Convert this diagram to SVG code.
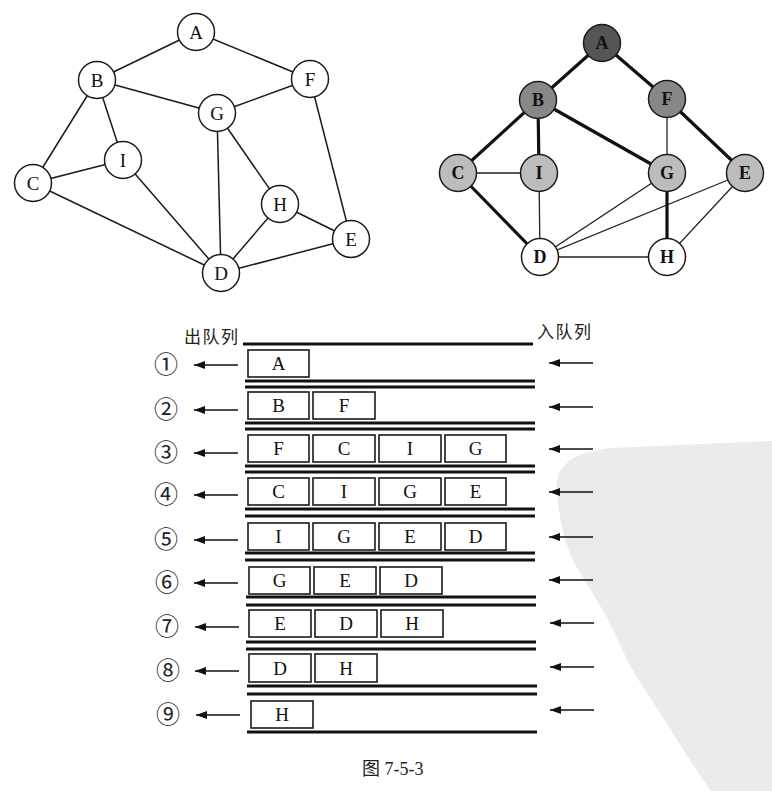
<svg xmlns="http://www.w3.org/2000/svg" width="772" height="791" viewBox="0 0 772 791">
<defs>
<style>
.e1{stroke:#1a1a1a;stroke-width:1.5;fill:none}
.tk{stroke:#111;stroke-width:3.2;fill:none}
.tn{stroke:#222;stroke-width:1.3;fill:none}
.n1{fill:#fff;stroke:#1a1a1a;stroke-width:1.5}
.n2{stroke:#1a1a1a;stroke-width:1.5}
.lb{font-family:"Liberation Serif","Times New Roman",serif;font-size:19px;fill:#111;text-anchor:middle}
.lbb{font-family:"Liberation Serif","Times New Roman",serif;font-size:18px;font-weight:bold;fill:#111;text-anchor:middle}
.bx{fill:#fff;stroke:#1a1a1a;stroke-width:1.6}
.bt{font-family:"Liberation Serif","Times New Roman",serif;font-size:19px;fill:#111;text-anchor:middle}
.ql{stroke:#111;stroke-width:3}
.ar{stroke:#111;stroke-width:1.6;marker-end:url(#ah)}
.cn{font-family:"Noto Sans CJK SC","DejaVu Sans",sans-serif;font-size:24px;fill:#222;text-anchor:middle}
.hd{font-family:"Noto Sans CJK SC",sans-serif;font-size:17px;fill:#222;letter-spacing:1.5px}
.cap{font-family:"Liberation Serif","Noto Sans CJK SC",serif;font-size:18px;fill:#222}
</style>
<marker id="ah" markerUnits="userSpaceOnUse" markerWidth="13" markerHeight="10" refX="11" refY="4" orient="auto">
<path d="M0,0 L11,4 L0,8 Z" fill="#111"/>
</marker>
</defs>
<rect width="772" height="791" fill="#fff"/>
<path id="watermark" d="M557 492 C554 466 572 452 612 448 L772 441 L772 791 L711 791 C695 770 665 720 643 687 C628 664 618 640 608 620 C595 595 582 578 573 560 C563 540 559 515 557 492 Z" fill="#ebebeb"/>

<g id="graph1-connectors">
<line class="e1" x1="196" y1="32" x2="97" y2="80"/>
<line class="e1" x1="196" y1="32" x2="310" y2="79"/>
<line class="e1" x1="97" y1="80" x2="217" y2="113"/>
<line class="e1" x1="310" y1="79" x2="217" y2="113"/>
<line class="e1" x1="97" y1="80" x2="33" y2="183"/>
<line class="e1" x1="97" y1="80" x2="123" y2="160"/>
<line class="e1" x1="33" y1="183" x2="123" y2="160"/>
<line class="e1" x1="33" y1="183" x2="221" y2="273"/>
<line class="e1" x1="123" y1="160" x2="221" y2="273"/>
<line class="e1" x1="217" y1="113" x2="221" y2="273"/>
<line class="e1" x1="217" y1="113" x2="280" y2="204"/>
<line class="e1" x1="310" y1="79" x2="351" y2="239"/>
<line class="e1" x1="280" y1="204" x2="351" y2="239"/>
<line class="e1" x1="280" y1="204" x2="221" y2="273"/>
<line class="e1" x1="351" y1="239" x2="221" y2="273"/>
</g>
<g id="g1-A"><circle class="n1" cx="196" cy="32" r="18.5"/><text class="lb" x="196" y="38.5">A</text></g>
<g id="g1-B"><circle class="n1" cx="97" cy="80" r="18.5"/><text class="lb" x="97" y="86.5">B</text></g>
<g id="g1-F"><circle class="n1" cx="310" cy="79" r="18.5"/><text class="lb" x="310" y="85.5">F</text></g>
<g id="g1-G"><circle class="n1" cx="217" cy="113" r="18.5"/><text class="lb" x="217" y="119.5">G</text></g>
<g id="g1-I"><circle class="n1" cx="123" cy="160" r="18.5"/><text class="lb" x="123" y="166.5">I</text></g>
<g id="g1-C"><circle class="n1" cx="33" cy="183" r="18.5"/><text class="lb" x="33" y="189.5">C</text></g>
<g id="g1-H"><circle class="n1" cx="280" cy="204" r="18.5"/><text class="lb" x="280" y="210.5">H</text></g>
<g id="g1-E"><circle class="n1" cx="351" cy="239" r="18.5"/><text class="lb" x="351" y="245.5">E</text></g>
<g id="g1-D"><circle class="n1" cx="221" cy="273" r="18.5"/><text class="lb" x="221" y="279.5">D</text></g>

<g id="graph2-connectors">
<line class="tk" x1="602" y1="43" x2="538" y2="100"/>
<line class="tk" x1="602" y1="43" x2="667" y2="99"/>
<line class="tk" x1="538" y1="100" x2="458" y2="173"/>
<line class="tk" x1="538" y1="100" x2="539" y2="173"/>
<line class="tk" x1="538" y1="100" x2="667" y2="173"/>
<line class="tn" x1="667" y1="99" x2="667" y2="173"/>
<line class="tk" x1="667" y1="99" x2="745" y2="173"/>
<line class="tn" x1="458" y1="173" x2="539" y2="173"/>
<line class="tk" x1="458" y1="173" x2="540" y2="257"/>
<line class="tn" x1="539" y1="173" x2="540" y2="257"/>
<line class="tn" x1="667" y1="173" x2="540" y2="257"/>
<line class="tn" x1="745" y1="173" x2="540" y2="257"/>
<line class="tk" x1="667" y1="173" x2="667" y2="257"/>
<line class="tn" x1="745" y1="173" x2="667" y2="257"/>
<line class="tn" x1="540" y1="257" x2="667" y2="257"/>
</g>
<g id="g2-A"><circle class="n2" fill="#555" cx="602" cy="43" r="18.5"/><text class="lbb" x="602" y="49">A</text></g>
<g id="g2-B"><circle class="n2" fill="#878787" cx="538" cy="100" r="18.5"/><text class="lbb" x="538" y="106">B</text></g>
<g id="g2-F"><circle class="n2" fill="#878787" cx="667" cy="99" r="18.5"/><text class="lbb" x="667" y="105">F</text></g>
<g id="g2-C"><circle class="n2" fill="#bcbcbc" cx="458" cy="173" r="18.5"/><text class="lbb" x="458" y="179">C</text></g>
<g id="g2-I"><circle class="n2" fill="#bcbcbc" cx="539" cy="173" r="18.5"/><text class="lbb" x="539" y="179">I</text></g>
<g id="g2-G"><circle class="n2" fill="#bcbcbc" cx="667" cy="173" r="18.5"/><text class="lbb" x="667" y="179">G</text></g>
<g id="g2-E"><circle class="n2" fill="#bcbcbc" cx="745" cy="173" r="18.5"/><text class="lbb" x="745" y="179">E</text></g>
<g id="g2-D"><circle class="n2" fill="#fff" cx="540" cy="257" r="18.5"/><text class="lbb" x="540" y="263">D</text></g>
<g id="g2-H"><circle class="n2" fill="#fff" cx="667" cy="257" r="18.5"/><text class="lbb" x="667" y="263">H</text></g>

<g id="queue-headers">
<text class="hd" x="184" y="343">出队列</text>
<text class="hd" x="537" y="338">入队列</text>
</g>

<g id="queue-lines">
<line class="ql" x1="243" y1="344" x2="533" y2="344"/>
<line class="ql" x1="245" y1="381" x2="535" y2="381"/>
<line class="ql" x1="245" y1="387" x2="535" y2="387"/>
<line class="ql" x1="245" y1="423" x2="535" y2="423"/>
<line class="ql" x1="245" y1="429" x2="535" y2="429"/>
<line class="ql" x1="245" y1="466" x2="535" y2="466"/>
<line class="ql" x1="245" y1="472" x2="535" y2="472"/>
<line class="ql" x1="245" y1="509" x2="535" y2="509"/>
<line class="ql" x1="245" y1="516" x2="535" y2="516"/>
<line class="ql" x1="245" y1="553" x2="535" y2="553"/>
<line class="ql" x1="245" y1="560" x2="535" y2="560"/>
<line class="ql" x1="246" y1="597" x2="536" y2="597"/>
<line class="ql" x1="246" y1="605" x2="536" y2="605"/>
<line class="ql" x1="246" y1="642" x2="536" y2="642"/>
<line class="ql" x1="246" y1="649" x2="536" y2="649"/>
<line class="ql" x1="247" y1="686" x2="537" y2="686"/>
<line class="ql" x1="247" y1="694" x2="537" y2="694"/>
<line class="ql" x1="247" y1="732" x2="537" y2="732"/>
</g>

<g id="queue-arrows">
<line class="ar" x1="238" y1="365" x2="194" y2="365"/>
<line class="ar" x1="238" y1="410" x2="194" y2="410"/>
<line class="ar" x1="238" y1="453" x2="194" y2="453"/>
<line class="ar" x1="238" y1="495" x2="194" y2="495"/>
<line class="ar" x1="238" y1="540" x2="194" y2="540"/>
<line class="ar" x1="238" y1="583" x2="194" y2="583"/>
<line class="ar" x1="239" y1="627" x2="195" y2="627"/>
<line class="ar" x1="239" y1="671" x2="195" y2="671"/>
<line class="ar" x1="240" y1="715" x2="196" y2="715"/>
<line class="ar" x1="593" y1="363" x2="549" y2="363"/>
<line class="ar" x1="593" y1="407" x2="549" y2="407"/>
<line class="ar" x1="593" y1="449" x2="549" y2="449"/>
<line class="ar" x1="593" y1="492" x2="549" y2="492"/>
<line class="ar" x1="593" y1="537" x2="549" y2="537"/>
<line class="ar" x1="593" y1="580" x2="549" y2="580"/>
<line class="ar" x1="594" y1="623" x2="550" y2="623"/>
<line class="ar" x1="594" y1="667" x2="550" y2="667"/>
<line class="ar" x1="594" y1="710" x2="550" y2="710"/>
</g>

<g id="queue-steps">
<text class="cn" x="166" y="373">①</text>
<text class="cn" x="166" y="418">②</text>
<text class="cn" x="166" y="461">③</text>
<text class="cn" x="166" y="503">④</text>
<text class="cn" x="166" y="548">⑤</text>
<text class="cn" x="167" y="591">⑥</text>
<text class="cn" x="167" y="635">⑦</text>
<text class="cn" x="168" y="679">⑧</text>
<text class="cn" x="168" y="723">⑨</text>
</g>

<g id="row1">
<rect class="bx" x="248" y="350" width="61" height="27"/><text class="bt" x="278.5" y="370">A</text>
</g>
<g id="row2">
<rect class="bx" x="248" y="392" width="61" height="27"/><text class="bt" x="278.5" y="412">B</text>
<rect class="bx" x="313" y="392" width="62" height="27"/><text class="bt" x="344" y="412">F</text>
</g>
<g id="row3">
<rect class="bx" x="248" y="435" width="61" height="27"/><text class="bt" x="278.5" y="455">F</text>
<rect class="bx" x="313" y="435" width="62" height="27"/><text class="bt" x="344" y="455">C</text>
<rect class="bx" x="379" y="435" width="62" height="27"/><text class="bt" x="410" y="455">I</text>
<rect class="bx" x="445" y="435" width="61" height="27"/><text class="bt" x="475.5" y="455">G</text>
</g>
<g id="row4">
<rect class="bx" x="248" y="478" width="61" height="27"/><text class="bt" x="278.5" y="498">C</text>
<rect class="bx" x="313" y="478" width="62" height="27"/><text class="bt" x="344" y="498">I</text>
<rect class="bx" x="379" y="478" width="62" height="27"/><text class="bt" x="410" y="498">G</text>
<rect class="bx" x="445" y="478" width="61" height="27"/><text class="bt" x="475.5" y="498">E</text>
</g>
<g id="row5">
<rect class="bx" x="248" y="523" width="61" height="27"/><text class="bt" x="278.5" y="543">I</text>
<rect class="bx" x="313" y="523" width="62" height="27"/><text class="bt" x="344" y="543">G</text>
<rect class="bx" x="379" y="523" width="62" height="27"/><text class="bt" x="410" y="543">E</text>
<rect class="bx" x="445" y="523" width="61" height="27"/><text class="bt" x="475.5" y="543">D</text>
</g>
<g id="row6">
<rect class="bx" x="249" y="567" width="61" height="27"/><text class="bt" x="279.5" y="587">G</text>
<rect class="bx" x="314" y="567" width="62" height="27"/><text class="bt" x="345" y="587">E</text>
<rect class="bx" x="380" y="567" width="62" height="27"/><text class="bt" x="411" y="587">D</text>
</g>
<g id="row7">
<rect class="bx" x="249" y="610" width="62" height="27"/><text class="bt" x="280" y="630">E</text>
<rect class="bx" x="315" y="610" width="62" height="27"/><text class="bt" x="346" y="630">D</text>
<rect class="bx" x="381" y="610" width="62" height="27"/><text class="bt" x="412" y="630">H</text>
</g>
<g id="row8">
<rect class="bx" x="249" y="654" width="62" height="28"/><text class="bt" x="280" y="675">D</text>
<rect class="bx" x="315" y="654" width="62" height="28"/><text class="bt" x="346" y="675">H</text>
</g>
<g id="row9">
<rect class="bx" x="251" y="701" width="62" height="27"/><text class="bt" x="282" y="721">H</text>
</g>

<text id="caption" class="cap" x="362" y="775">图 7-5-3</text>
</svg>
